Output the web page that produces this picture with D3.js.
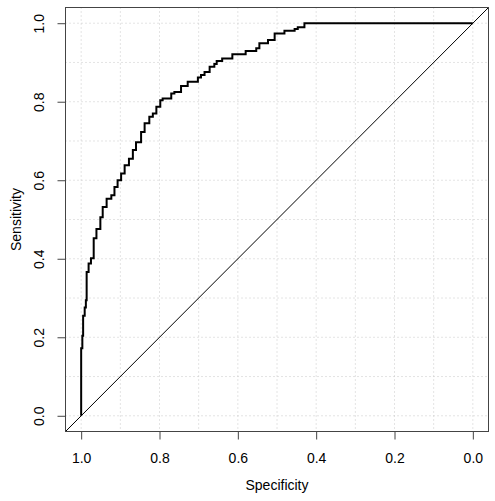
<!DOCTYPE html>
<html>
<head>
<meta charset="utf-8">
<script src="https://cdn.jsdelivr.net/npm/d3@7"></script>
<style>
  body { margin: 0; background: #fff; }
  svg text { font-family: "Liberation Sans", Arial, sans-serif; fill: #000; }
</style>
</head>
<body>
<svg width="495" height="501"></svg>
<script>
// ROC points (specificity, sensitivity), top of each step
const specificity = [1.0, 1.0, 0.997, 0.995, 0.991, 0.988, 0.986, 0.981, 0.975, 0.968, 0.961,
    0.951, 0.945, 0.935, 0.923, 0.915, 0.907, 0.898, 0.889, 0.878, 0.868, 0.860, 0.847,
    0.838, 0.826, 0.817, 0.808, 0.798, 0.792, 0.770, 0.762, 0.745, 0.728, 0.702, 0.694,
    0.685, 0.672, 0.660, 0.654, 0.640, 0.614, 0.580, 0.553, 0.545, 0.523, 0.506, 0.481,
    0.455, 0.447, 0.430, 0.0];
const sensitivity = [0.0, 0.172, 0.204, 0.255, 0.276, 0.294, 0.366, 0.388, 0.401, 0.452, 0.476,
    0.506, 0.532, 0.553, 0.562, 0.583, 0.600, 0.617, 0.638, 0.655, 0.677, 0.697, 0.723,
    0.745, 0.762, 0.770, 0.787, 0.804, 0.808, 0.821, 0.825, 0.840, 0.851, 0.862, 0.868,
    0.876, 0.889, 0.896, 0.904, 0.910, 0.921, 0.929, 0.936, 0.949, 0.957, 0.974, 0.981,
    0.985, 0.990, 1.0, 1.0];
const tickValues = [0, 0.2, 0.4, 0.6, 0.8, 1.0];
const gridValues = [0, 0.1, 0.2, 0.3, 0.4, 0.5, 0.6, 0.7, 0.8, 0.9, 1.0];

let svg = d3.select('svg');
let box = {left: 65.5, right: 488.5, top: 7.5, bottom: 431.5};
let font = '"Liberation Sans", Arial, sans-serif';

let xScale = d3.scaleLinear().domain([1.04, -0.04]).range([box.left, box.right]);
let yScale = d3.scaleLinear().domain([-0.04, 1.04]).range([box.bottom, box.top]);

//网格
let grid = svg.append('g').attr('class', 'grid')
    .attr('stroke', '#c8c8c8').attr('stroke-width', 1).attr('stroke-dasharray', '1,3');
grid.selectAll('.gx').data(gridValues).enter().append('line')
    .attr('x1', d => xScale(d)).attr('x2', d => xScale(d))
    .attr('y1', box.top).attr('y2', box.bottom);
grid.selectAll('.gy').data(gridValues).enter().append('line')
    .attr('y1', d => yScale(d)).attr('y2', d => yScale(d))
    .attr('x1', box.left).attr('x2', box.right);

//对角线
svg.append('line')
    .attr('x1', xScale(1.04)).attr('y1', yScale(-0.04))
    .attr('x2', xScale(-0.04)).attr('y2', yScale(1.04))
    .attr('stroke', '#000').attr('stroke-width', 1);

//ROC曲线
let points = specificity.map((s, i) => [s, sensitivity[i]]);
let line = d3.line()
    .x(d => xScale(d[0]))
    .y(d => yScale(d[1]))
    .curve(d3.curveStepAfter);
svg.append('path')
    .datum(points)
    .attr('d', line)
    .attr('fill', 'none')
    .attr('stroke', '#000')
    .attr('stroke-width', 2);

//坐标轴
let xAxis = d3.axisBottom(xScale).tickValues(tickValues).tickSize(8).tickPadding(14)
    .tickFormat(d3.format('.1f'));
let gx = svg.append('g').attr('transform', `translate(0,${box.bottom})`).call(xAxis);
gx.select('.domain').remove();
gx.selectAll('line').attr('stroke', '#444');
gx.selectAll('text').attr('font-size', 14).attr('font-family', font);

let yAxis = d3.axisLeft(yScale).tickValues(tickValues).tickSize(8).tickFormat(d3.format('.1f'));
let gy = svg.append('g').attr('transform', `translate(${box.left},0)`).call(yAxis);
gy.select('.domain').remove();
gy.selectAll('line').attr('stroke', '#444');
gy.selectAll('text')
    .attr('font-size', 14)
    .attr('font-family', font)
    .attr('x', 0).attr('y', 0).attr('dy', 0)
    .attr('text-anchor', 'middle')
    .attr('transform', 'translate(-21.5,0) rotate(-90)');

//边框
svg.append('rect')
    .attr('x', box.left).attr('y', box.top)
    .attr('width', box.right - box.left).attr('height', box.bottom - box.top)
    .attr('fill', 'none').attr('stroke', '#444').attr('stroke-width', 1);

//标题
svg.append('text').attr('x', (box.left + box.right) / 2).attr('y', 490)
    .attr('text-anchor', 'middle').attr('font-size', 14).text('Specificity');
svg.append('text')
    .attr('transform', `translate(21,${(box.top + box.bottom) / 2}) rotate(-90)`)
    .attr('text-anchor', 'middle').attr('font-size', 14).text('Sensitivity');
</script>
</body>
</html>
